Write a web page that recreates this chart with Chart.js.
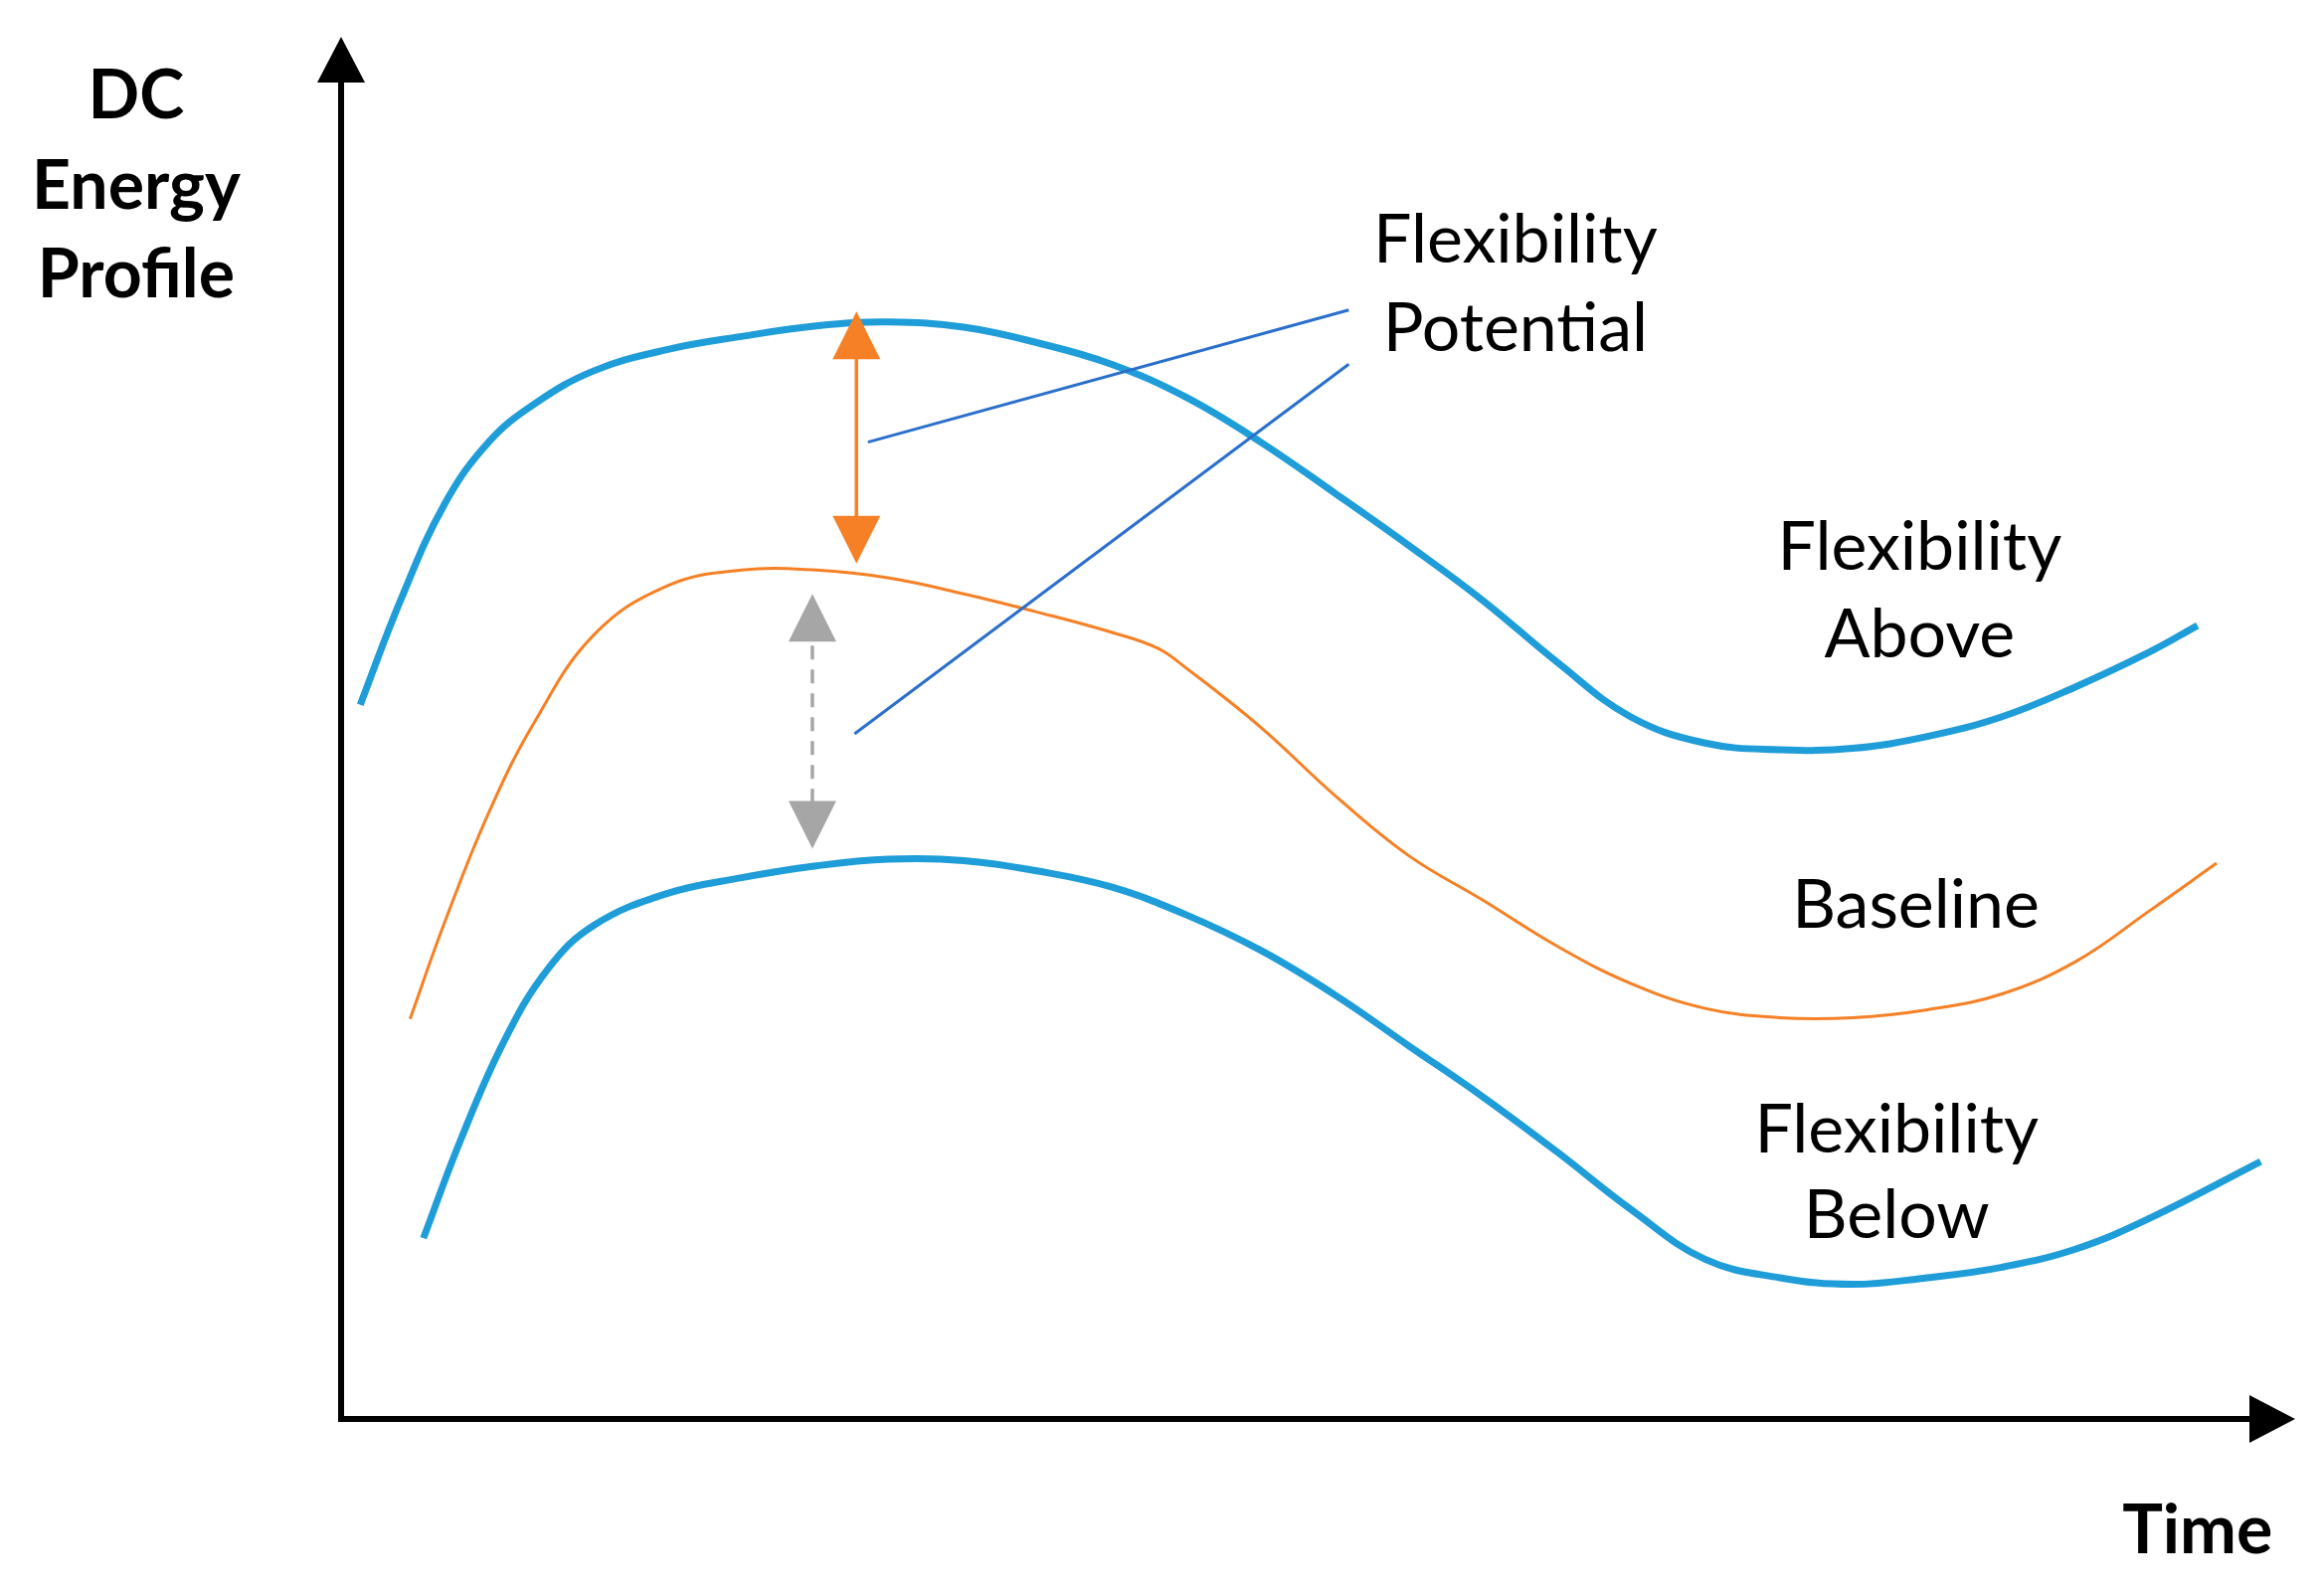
<!DOCTYPE html>
<html>
<head>
<meta charset="utf-8">
<title>DC Energy Profile</title>
<script src="https://cdn.jsdelivr.net/npm/chart.js@4.4.1/dist/chart.umd.min.js"></script>
<style>
    html, body { margin: 0; padding: 0; background: #fff; }
    #wrap { width: 2337px; height: 1602px; }
</style>
</head>
<body>
<div id="wrap"><canvas id="profileChart" width="2337" height="1602"></canvas></div>
<script>
// curve data (time units 0..102, energy units 0..~105)
const aboveX = [1.0, 3.1, 5.4, 7.7, 10.1, 13.2, 17.0, 20.9, 24.8, 28.6, 32.5, 36.4, 40.2, 44.1, 48.0, 51.9, 55.7, 59.6, 63.5, 67.3, 71.2, 75.1, 78.9, 82.8, 86.7, 90.6, 94.4, 96.9]
const aboveY = [54.1, 62.0, 69.3, 74.0, 76.9, 79.4, 81.0, 82.0, 82.8, 83.1, 82.7, 81.5, 79.9, 77.4, 74.0, 70.1, 66.2, 62.0, 57.3, 53.2, 51.2, 50.7, 50.8, 51.7, 53.2, 55.5, 58.1, 60.1]

const baseX = [3.6, 5.4, 7.7, 10.1, 13.2, 17.0, 20.9, 24.8, 28.6, 32.5, 36.4, 40.2, 42.6, 44.1, 48.0, 51.9, 55.7, 59.6, 63.5, 67.3, 71.2, 75.1, 78.9, 82.8, 86.7, 90.6, 94.4, 97.9]
const baseY = [30.3, 37.6, 45.9, 52.8, 59.4, 63.1, 64.3, 64.3, 63.7, 62.5, 61.1, 59.6, 58.4, 56.9, 52.4, 47.2, 42.7, 39.3, 35.8, 33.0, 31.1, 30.4, 30.4, 31.0, 32.2, 34.7, 38.5, 42.1]

const belowX = [4.3, 6.2, 8.5, 10.8, 13.2, 17.0, 20.9, 24.8, 28.6, 32.5, 36.4, 40.2, 44.1, 48.0, 51.9, 55.7, 59.6, 63.5, 67.3, 71.2, 75.1, 78.9, 82.8, 86.7, 90.6, 94.4, 100.2]
const belowY = [13.7, 21.0, 28.6, 34.1, 37.4, 39.8, 41.0, 41.9, 42.4, 42.3, 41.5, 40.3, 38.2, 35.5, 32.1, 28.3, 24.4, 20.2, 15.9, 12.1, 10.7, 10.2, 10.7, 11.5, 12.9, 15.2, 19.5]

// annotation arrows: [x, yFrom, yTo]
const upArrow = [26.9, 64.8, 83.9]
const downArrow = [24.6, 43.2, 62.5]
// leader lines: [x1, y1, x2, y2]
const leaderTop = [27.5, 74.0, 52.6, 84.0]
const leaderBottom = [26.8, 51.9, 52.6, 79.9]

const xMax = 102
const yMax = 104.7

// text labels: [text, x, y, bold]
const labels = [
    ['DC', -10.7, 98.5, true],
    ['Energy', -10.7, 91.7, true],
    ['Profile', -10.7, 85.0, true],
    ['Flexibility', 61.3, 87.6, false],
    ['Potential', 61.3, 80.9, false],
    ['Flexibility', 82.4, 64.3, false],
    ['Above', 82.4, 57.7, false],
    ['Baseline', 82.2, 37.2, false],
    ['Flexibility', 81.2, 20.2, false],
    ['Below', 81.2, 13.7, false],
    ['Time', 96.9, -10.2, true]
]

const toPoints = (xs, ys) => xs.map((x, i) => ({ x: x, y: ys[i] }))

const BLUE = '#1F9DD9'
const ORANGE = '#F58025'
const GRAY = '#A6A6A6'
const LEADER = '#2A6FCC'

function triangle(ctx, x, tipY, dir, w, h, color) {
    ctx.fillStyle = color
    ctx.beginPath()
    ctx.moveTo(x, tipY)
    ctx.lineTo(x - w / 2, tipY + dir * h)
    ctx.lineTo(x + w / 2, tipY + dir * h)
    ctx.closePath()
    ctx.fill()
}

const sketchPlugin = {
    id: 'sketch',
    beforeDatasetsDraw(chart) {
        const { ctx, chartArea: a } = chart
        ctx.save()
        // axes
        ctx.strokeStyle = '#000'
        ctx.lineWidth = 6
        ctx.beginPath()
        ctx.moveTo(a.left, a.top + 40)
        ctx.lineTo(a.left, a.bottom)
        ctx.lineTo(a.right - 40, a.bottom)
        ctx.stroke()
        triangle(ctx, a.left, a.top, 1, 48, 46, '#000')
        ctx.beginPath()
        ctx.moveTo(a.right, a.bottom)
        ctx.lineTo(a.right - 46, a.bottom - 24)
        ctx.lineTo(a.right - 46, a.bottom + 24)
        ctx.closePath()
        ctx.fill()
        ctx.restore()
    },
    afterDatasetsDraw(chart) {
        const { ctx } = chart
        const sx = chart.scales.x
        const sy = chart.scales.y
        ctx.save()

        // leader lines
        ctx.strokeStyle = LEADER
        ctx.lineWidth = 3
        ;[leaderTop, leaderBottom].forEach((l) => {
            ctx.beginPath()
            ctx.moveTo(sx.getPixelForValue(l[0]), sy.getPixelForValue(l[1]))
            ctx.lineTo(sx.getPixelForValue(l[2]), sy.getPixelForValue(l[3]))
            ctx.stroke()
        })

        // orange double arrow
        let x = sx.getPixelForValue(upArrow[0])
        let yLo = sy.getPixelForValue(upArrow[1])
        let yHi = sy.getPixelForValue(upArrow[2])
        ctx.strokeStyle = ORANGE
        ctx.lineWidth = 3.5
        ctx.beginPath()
        ctx.moveTo(x, yHi + 40)
        ctx.lineTo(x, yLo - 40)
        ctx.stroke()
        triangle(ctx, x, yHi, 1, 48, 48, ORANGE)
        triangle(ctx, x, yLo, -1, 48, 48, ORANGE)

        // gray dashed double arrow
        x = sx.getPixelForValue(downArrow[0])
        yLo = sy.getPixelForValue(downArrow[1])
        yHi = sy.getPixelForValue(downArrow[2])
        ctx.strokeStyle = GRAY
        ctx.lineWidth = 3.5
        ctx.setLineDash([14, 10])
        ctx.beginPath()
        ctx.moveTo(x, yHi + 52)
        ctx.lineTo(x, yLo - 44)
        ctx.stroke()
        ctx.setLineDash([])
        triangle(ctx, x, yHi, 1, 48, 48, GRAY)
        triangle(ctx, x, yLo, -1, 48, 48, GRAY)

        // labels
        ctx.fillStyle = '#000'
        ctx.textAlign = 'center'
        ctx.textBaseline = 'alphabetic'
        labels.forEach(([text, lx, ly, bold]) => {
            ctx.font = (bold ? 'bold ' : '') + '68px Lato'
            ctx.fillText(text, sx.getPixelForValue(lx), sy.getPixelForValue(ly))
        })
        ctx.restore()
    }
}

const lineStyle = (color, width) => ({
    borderColor: color,
    backgroundColor: color,
    borderWidth: width,
    pointRadius: 0,
    tension: 0.4,
    fill: false
})

new Chart(document.getElementById('profileChart'), {
    type: 'line',
    data: {
        datasets: [
            { label: 'Flexibility Above', data: toPoints(aboveX, aboveY), ...lineStyle(BLUE, 7) },
            { label: 'Baseline', data: toPoints(baseX, baseY), ...lineStyle(ORANGE, 3) },
            { label: 'Flexibility Below', data: toPoints(belowX, belowY), ...lineStyle(BLUE, 7) }
        ]
    },
    options: {
        responsive: false,
        devicePixelRatio: 1,
        animation: false,
        events: [],
        layout: {
            padding: { left: 343, top: 37, right: 29, bottom: 175 }
        },
        plugins: {
            legend: { display: false },
            tooltip: { enabled: false }
        },
        scales: {
            x: { type: 'linear', min: 0, max: xMax, display: false },
            y: { type: 'linear', min: 0, max: yMax, display: false }
        }
    },
    plugins: [sketchPlugin]
})
</script>
</body>
</html>
